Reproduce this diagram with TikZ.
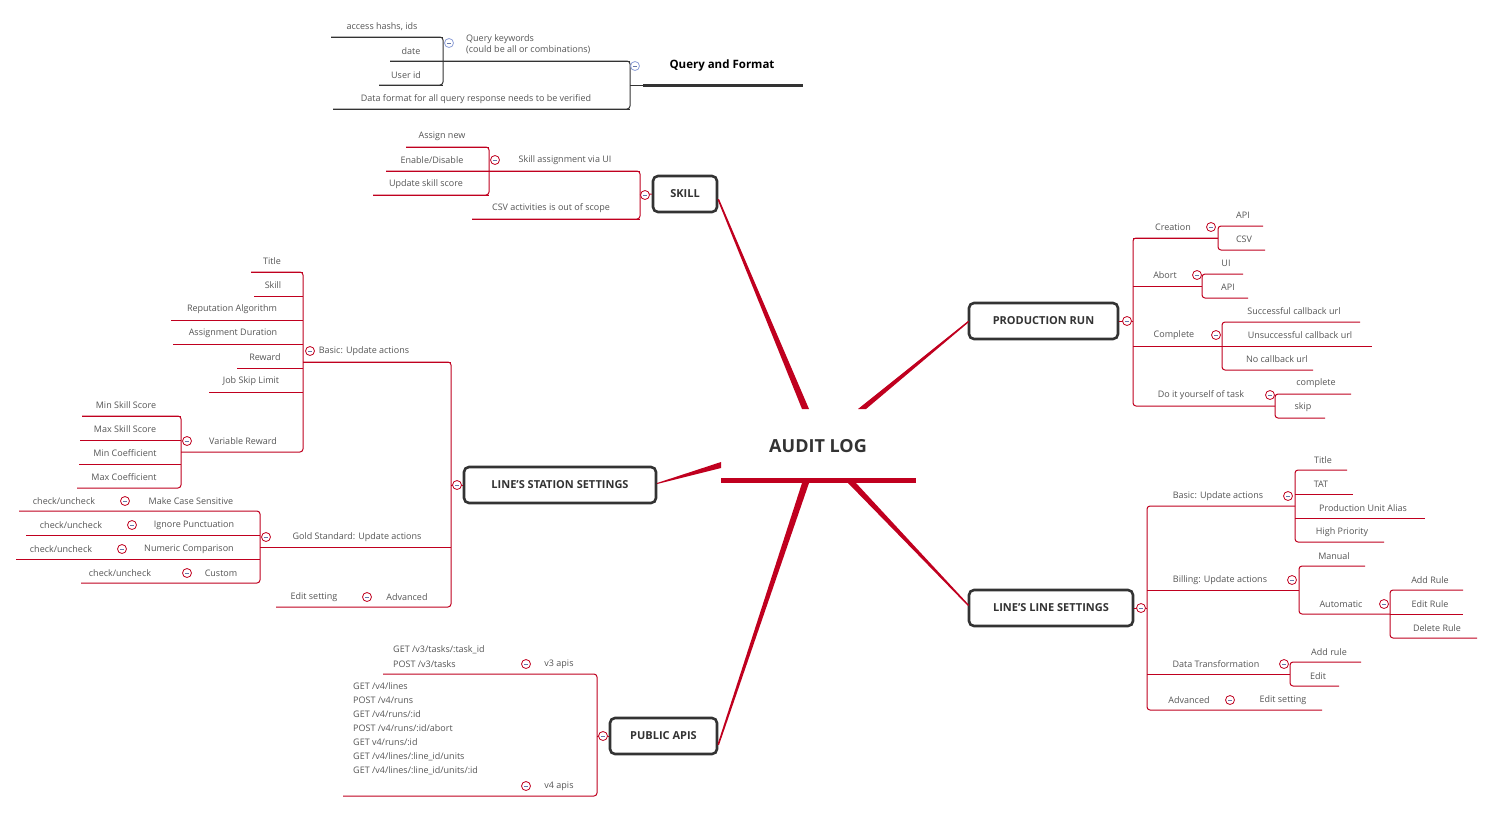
\documentclass[tikz,border=0pt]{standalone}
\usepackage{fontspec}
\setmainfont{Open Sans}
\definecolor{rl}{HTML}{C0001F}
\definecolor{dk}{HTML}{333333}
\definecolor{tx}{HTML}{555555}
\definecolor{mn}{HTML}{6677AA}
\definecolor{bl}{HTML}{8FA0D8}
\tikzset{
  rline/.style={draw=rl,line width=1pt},
  kline/.style={draw=dk,line width=1pt},
  lbl/.style={text=tx,inner sep=0pt,font=\fontsize{9}{11}\selectfont},
  topic/.style={draw=dk,line width=2.6pt,rounded corners=5pt,inner sep=0pt,font=\bfseries\fontsize{11}{13}\selectfont,text=dk},
}
\newcommand{\hl}[4][rline]{\draw[#1] (#2,#4) -- (#3,#4);}
\newcommand{\brk}[6][rline]{\draw[#1,rounded corners=3pt] (#5,#3) -- (#2,#3) -- (#2,#4) -- (#6,#4);}
\newcommand{\tx}[3]{\node[lbl] at (#1,#2) {#3};}
\newcommand{\mc}[3][rl]{\draw[#1,line width=0.8pt,fill=white] (#2,#3) circle (4.5pt); \draw[mn,line width=0.7pt] (#2-2.2,#3) -- (#2+2.2,#3);}
\begin{document}
\begin{tikzpicture}[x=1pt,y=-1pt]
\useasboundingbox (0,0) rectangle (1493,812);
\fill[white] (0,0) rectangle (1493,812);

% ---------- central
\node[inner sep=0pt,font=\bfseries\fontsize{18}{20}\selectfont,text=dk] (audit) at (818,446) {AUDIT LOG};
\fill[rl] (721,477.5) rectangle (916,482.5);
% tapered connectors
\node[topic,minimum width=64pt,minimum height=36pt] (skill) at (685,194) {SKILL};
\node[topic,minimum width=149pt,minimum height=36pt] (prod) at (1043.5,321) {PRODUCTION RUN};
\node[topic,minimum width=164pt,minimum height=36pt] (line) at (1051,608) {LINE'S LINE SETTINGS};
\node[topic,minimum width=192pt,minimum height=36pt] (station) at (560,485) {LINE'S STATION SETTINGS};
\node[topic,minimum width=107pt,minimum height=36pt] (apis) at (663.5,736) {PUBLIC APIS};
\fill[rl] (802,409) -- (809,409) -- (719,199) -- (717.5,199.5) -- cycle;
\fill[rl] (858,409) -- (866,409) -- (969,322) -- (968,321) -- cycle;
\fill[rl] (721,462) -- (721,468) -- (657,484) -- (657,483) -- cycle;
\fill[rl] (848,483) -- (856,483) -- (969,605) -- (968,606) -- cycle;
\fill[rl] (802,483) -- (809,483) -- (719,745) -- (717.5,744.5) -- cycle;

% ---------- Query and Format (dark)
\node[inner sep=0pt,font=\bfseries\fontsize{11.5}{13}\selectfont,text=black] (qf) at (722,66) {Query and Format};
\fill[dk] (643,83.5) rectangle (803,86.5);
\hl[kline]{331}{443}{37}\tx{382}{27}{access hashs, ids}
\hl[kline]{390}{630}{61}\tx{411}{51}{date}
\hl[kline]{379}{443}{85}\tx{406}{75}{User id}
\brk[kline]{443}{37}{85}{331}{379}
\node[lbl,align=left,anchor=west] at (466,44) {Query keywords\\(could be all or combinations)};
\hl[kline]{333}{630}{109}\tx{476}{99}{Data format for all query response needs to be verified}
\brk[kline]{630}{61}{109}{390}{333}
\hl[kline]{630}{643}{85}
\mc[bl]{449}{43}
\mc[bl]{635}{66}

% ---------- SKILL
\hl{406}{489}{147}\tx{442}{136}{Assign new}
\hl{386}{640}{171}\tx{432}{160}{Enable/Disable}
\hl{373}{489}{195}\tx{426}{184}{Update skill score}
\brk{489}{147}{195}{406}{373}
\tx{565}{160}{Skill assignment via UI}
\hl{472}{640}{219}\tx{551}{208}{CSV activities is out of scope}
\brk{640}{171}{219}{386}{472}
\draw[rline] (640,195) -- (skill.west);
\mc{495}{160}\mc{645}{195}

% ---------- LINE'S STATION SETTINGS
\brk{451}{362}{607}{303}{276}
\draw[rline] (451,485) -- (station.west);
\mc{457}{485}
\hl{303}{451}{362}\tx{364}{351}{Basic: Update actions}\mc{310}{351}
\brk{303}{272}{452}{251}{181}
\hl{251}{303}{272}\tx{272}{261}{Title}
\hl{254}{303}{296}\tx{273}{285}{Skill}
\hl{171}{303}{320}\tx{232}{309}{Reputation Algorithm}
\hl{173}{303}{344}\tx{233}{333}{Assignment Duration}
\hl{237}{303}{368}\tx{265}{357}{Reward}
\hl{209}{303}{392}\tx{251}{381}{Job Skip Limit}
\tx{243}{441}{Variable Reward}\mc{187}{441}
\brk{181}{416}{488}{82}{77}
\hl{82}{181}{416}\tx{126}{405}{Min Skill Score}
\hl{80}{181}{440}\tx{125}{429}{Max Skill Score}
\hl{79}{181}{464}\tx{125}{453}{Min Coefficient}
\tx{124}{477}{Max Coefficient}
\hl{260}{451}{547}\tx{357}{537}{Gold Standard: Update actions}\mc{266}{537}
\brk{260}{511}{583}{19}{81}
\tx{191}{501}{Make Case Sensitive}\tx{64}{501}{check/uncheck}\mc{125}{501}
\hl{26}{260}{535}\tx{194}{525}{Ignore Punctuation}\tx{71}{525}{check/uncheck}\mc{132}{525}
\hl{16}{260}{559}\tx{189}{549}{Numeric Comparison}\tx{61}{549}{check/uncheck}\mc{122}{549}
\tx{221}{573}{Custom}\tx{120}{573}{check/uncheck}\mc{187}{573}
\tx{407}{597}{Advanced}\tx{314}{597}{Edit setting}\mc{367}{597}

% ---------- PUBLIC APIS
\brk{597}{674}{796}{383}{343}
\draw[rline] (597,736) -- (apis.west);
\mc{603}{736}
\node[lbl,anchor=west] at (393,650) {GET /v3/tasks/:task\_id};
\node[lbl,anchor=west] at (393,664) {POST /v3/tasks};
\tx{559}{664}{v3 apis}\mc{526}{664}
\node[lbl,anchor=north west,align=left,font=\fontsize{9}{14}\selectfont] at (353,682) {GET /v4/lines\\POST /v4/runs\\GET /v4/runs/:id\\POST /v4/runs/:id/abort\\GET v4/runs/:id\\GET /v4/lines/:line\_id/units\\GET /v4/lines/:line\_id/units/:id};
\tx{559}{786}{v4 apis}\mc{526}{786}

% ---------- PRODUCTION RUN
\brk{1133}{238}{406}{1218}{1275}
\draw[rline] (prod.east) -- (1133,321);
\mc{1127}{321}
\hl{1133}{1218}{238}\tx{1173}{227}{Creation}\mc{1211}{227}
\brk{1218}{226}{250}{1263}{1265}
\tx{1243}{215}{API}\tx{1244}{239}{CSV}
\hl{1133}{1202}{286}\tx{1165}{275}{Abort}\mc{1197}{275}
\brk{1202}{274}{298}{1243}{1248}
\tx{1226}{263}{UI}\tx{1228}{287}{API}
\hl{1133}{1372}{346}\tx{1174}{335}{Complete}\mc{1216}{335}
\brk{1222}{322}{370}{1360}{1313}
\tx{1294}{311}{Successful callback url}\tx{1300}{335}{Unsuccessful callback url}\tx{1277}{359}{No callback url}
\tx{1201}{395}{Do it yourself of task}\mc{1270}{395}
\brk{1275}{394}{418}{1351}{1325}
\tx{1316}{383}{complete}\tx{1303}{407}{skip}

% ---------- LINE'S LINE SETTINGS
\brk{1147}{506}{710}{1295}{1322}
\draw[rline] (line.east) -- (1147,608);
\mc{1141}{608}
\tx{1218}{496}{Basic: Update actions}\mc{1288}{496}
\brk{1295}{470}{542}{1347}{1384}
\hl{1295}{1353}{494}\hl{1295}{1425}{518}
\tx{1323}{460}{Title}\tx{1321}{484}{TAT}\tx{1363}{508}{Production Unit Alias}\tx{1342}{532}{High Priority}
\hl{1147}{1299}{590}\tx{1220}{580}{Billing: Update actions}\mc{1292}{580}
\brk{1299}{566}{614}{1365}{1390}
\tx{1334}{556}{Manual}\tx{1341}{604}{Automatic}\mc{1384}{604}
\brk{1390}{590}{638}{1463}{1477}
\hl{1390}{1463}{614}
\tx{1430}{580}{Add Rule}\tx{1430}{604}{Edit Rule}\tx{1437}{628}{Delete Rule}
\hl{1147}{1290}{674}\tx{1216}{664}{Data Transformation}\mc{1284}{664}
\brk{1290}{662}{686}{1361}{1339}
\tx{1329}{652}{Add rule}\tx{1318}{676}{Edit}
\tx{1189}{700}{Advanced}\tx{1283}{700}{Edit setting}\mc{1230}{700}
\end{tikzpicture}
\end{document}
